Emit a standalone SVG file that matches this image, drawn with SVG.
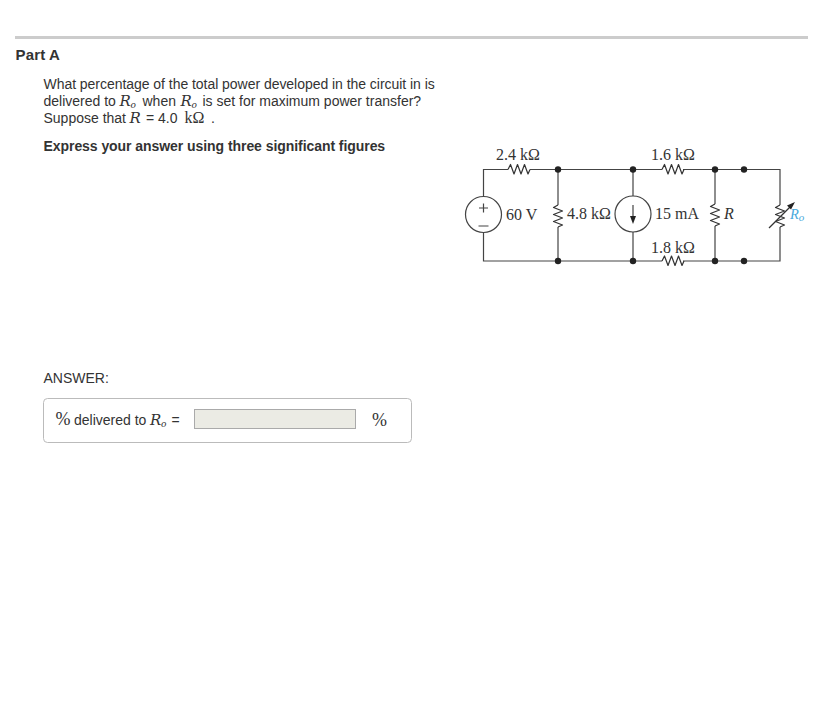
<svg xmlns="http://www.w3.org/2000/svg" width="833" height="703" viewBox="0 0 833 703">
<style>
.s{font-family:"Liberation Sans",Arial,sans-serif;font-size:14px;fill:#333}
.b{font-weight:bold}
.mi{font-family:"DejaVu Serif","Liberation Serif",serif;font-style:italic;font-size:15px;fill:#333}
.sub{font-family:"DejaVu Serif","Liberation Serif",serif;font-style:italic;font-size:9px;fill:#333}
.c{font-family:"Liberation Serif",serif;font-size:16px;fill:#333}
.w{fill:none;stroke:#444;stroke-width:1.200}
.r{fill:none;stroke:#333;stroke-width:1.200;stroke-linejoin:round}
.n{fill:#222}
</style>
<defs>
<path id="rh" d="M0 0l2.500-5 3.500 9.500 3.500-9.500 3.500 9.500 3.500-9.500 3.500 9.500 2-4.500" class="r"/>
<path id="rv" d="M0 0l-4.500 2.500 9 3.500-9 3.500 9 3.500-9 3.500 9 3.500-4.500 2" class="r"/>
</defs>
<rect id="rule" x="15" y="36" width="793" height="3" fill="#ccc"/>
<g id="question">
<text class="s b" x="15.500" y="60" style="font-size:15px" letter-spacing="0.150">Part A</text>
<text class="s" x="43.500" y="89" letter-spacing="-0.040">What percentage of the total power developed in the circuit in is</text>
<text class="s" y="106"><tspan x="43.500">delivered to</tspan><tspan class="mi" x="119.500">R</tspan><tspan class="sub" x="130.500" dy="2">o</tspan><tspan x="142.500" dy="-2">when</tspan><tspan class="mi" x="180.500">R</tspan><tspan class="sub" x="191.500" dy="2">o</tspan><tspan x="202.500" dy="-2">is set for maximum power transfer?</tspan></text>
<text class="s" y="123"><tspan x="43.500">Suppose that</tspan><tspan class="mi" x="129.500">R</tspan><tspan x="146">= 4.0</tspan><tspan class="c" x="184.500">kΩ</tspan><tspan x="211">.</tspan></text>
<text class="s b" x="43.500" y="151" letter-spacing="-0.060">Express your answer using three significant figures</text>
</g>
<g id="answer">
<text class="s" x="43.500" y="383">ANSWER:</text>
<rect x="43.500" y="398.500" width="368" height="44" rx="4" fill="#fff" stroke="#bbb"/>
<text class="s" y="425"><tspan class="c" x="55.500" style="font-size:18px">%</tspan><tspan x="74">delivered to</tspan><tspan class="mi" x="150">R</tspan><tspan class="sub" x="161" dy="2">o</tspan><tspan x="171.500" dy="-2">=</tspan></text>
<rect x="194.500" y="409.500" width="161" height="19" fill="#ebebe4" stroke="#aaa"/>
<text class="c" x="372" y="426" style="font-size:18px">%</text>
</g>
<g id="connectors">
<path class="w" d="M483.500 197V169.500H508M530 169.500H662M683 169.500H780V205M780 227V261H683M662 261H483.500V232"/>
<path class="w" d="M558 169.500V205M558 227V261M633 169.500V196M633 232V261M715 169.500V204M715 226V261"/>
</g>
<g id="source-60v">
<circle cx="483.500" cy="214.500" r="18" fill="#fff" class="w"/>
<path class="w" d="M479 208h9M483.500 203.500v9M478.500 226h10"/>
<text class="c" x="506" y="220">60 V</text>
</g>
<g id="source-15ma">
<circle cx="633" cy="214" r="18" fill="#fff" class="w"/>
<path class="w" d="M633 205v14"/>
<path d="M630 216h6l-3 8z" fill="#222"/>
<text class="c" x="655" y="219">15 mA</text>
</g>
<g id="r-2k4"><use href="#rh" x="508" y="169.500"/><text class="c" x="496" y="160">2.4 kΩ</text></g>
<g id="r-4k8"><use href="#rv" x="558" y="205"/><text class="c" x="567" y="219">4.8 kΩ</text></g>
<g id="r-1k6"><use href="#rh" x="662" y="169.500"/><text class="c" x="651" y="160">1.6 kΩ</text></g>
<g id="r-1k8"><use href="#rh" x="662" y="261"/><text class="c" x="651" y="253">1.8 kΩ</text></g>
<g id="r-r"><use href="#rv" x="715" y="204"/><text class="c" x="724" y="219" font-style="italic">R</text></g>
<g id="r-ro">
<use href="#rv" x="780" y="205"/>
<path class="r" d="M769 228L790 207"/>
<path d="M795 202l-8 3.500 4 4z" fill="#222"/>
<text x="790" y="219" font-family="Liberation Serif,serif" font-style="italic" font-size="14.500" fill="#4aa8dc">R<tspan font-size="11" dy="2">o</tspan></text>
</g>
<g id="junctions" class="n">
<circle cx="558" cy="169.500" r="3.200"/><circle cx="633" cy="169.500" r="3.200"/><circle cx="715" cy="169.500" r="3.200"/><circle cx="744" cy="169.500" r="3.200"/>
<circle cx="558" cy="261" r="3.200"/><circle cx="633" cy="261" r="3.200"/><circle cx="715" cy="261" r="3.200"/><circle cx="744" cy="261" r="3.200"/>
</g>
</svg>
